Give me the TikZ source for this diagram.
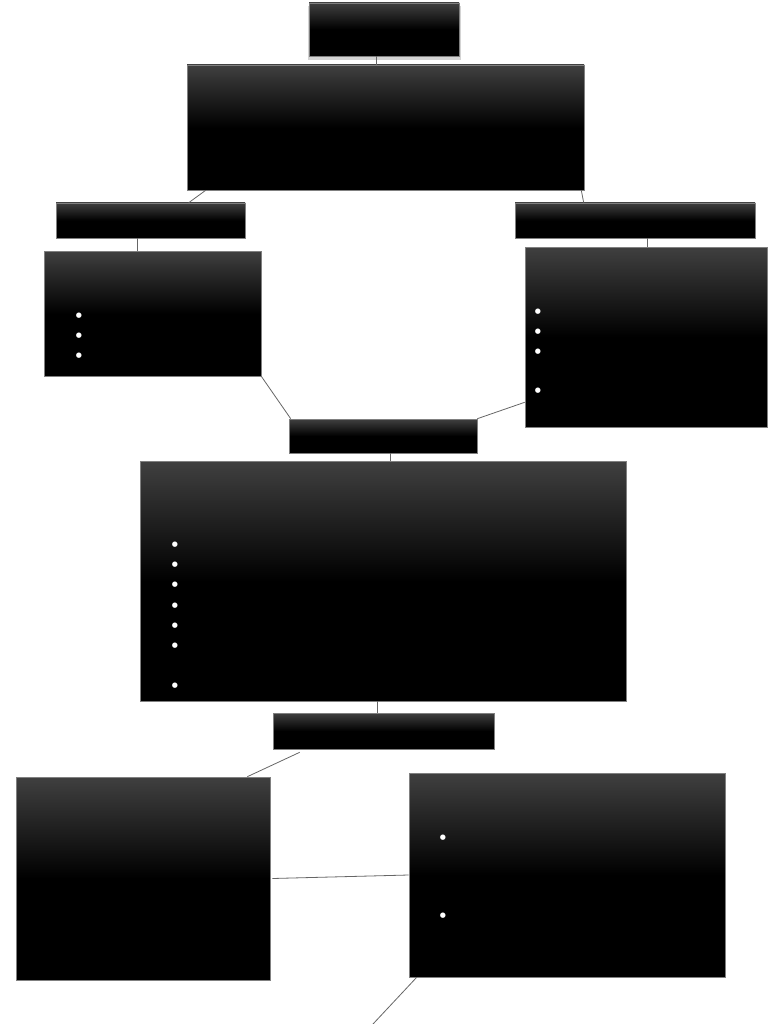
\documentclass[tikz,border=0pt]{standalone}
\usepackage{fontspec}
\newfontfamily\dotfont{DejaVu Sans}
\usetikzlibrary{shadows}
\pgfdeclareverticalshading{boxfade}{100bp}{color(0bp)=(black); color(25bp)=(black); color(50bp)=(black); color(75bp)=(black!75); color(100bp)=(black!75)}
\begin{document}
\begin{tikzpicture}[x=1pt, y=-1pt,
  box/.style={draw=black!50, line width=0.6pt, shade, shading=boxfade, inner sep=0pt},
  link/.style={draw=black!60, line width=0.8pt},
  bul/.style={text=white, font=\dotfont\fontsize{7}{7}\selectfont, inner sep=0pt}]
\useasboundingbox (0,0) rectangle (768,1024);
\node (top) [box, minimum width=150pt, minimum height=53pt, drop shadow={shadow xshift=0pt, shadow yshift=-3pt, shadow scale=1.02, opacity=.35}] at (384,29.5) {};
\node (big) [box, minimum width=397pt, minimum height=125pt] at (385.5,127.5) {};
\node (lh) [box, minimum width=189pt, minimum height=35pt] at (150.5,220.5) {};
\node (rh) [box, minimum width=240pt, minimum height=35pt] at (635,220.5) {};
\node (lc) [box, minimum width=217pt, minimum height=125pt] at (152.5,313.5) {};
\node (rc) [box, minimum width=242pt, minimum height=180pt] at (646,337) {};
\node (mh) [box, minimum width=188pt, minimum height=34pt] at (383,436) {};
\node (mb) [box, minimum width=486pt, minimum height=240pt] at (383,581) {};
\node (lw) [box, minimum width=221pt, minimum height=36pt] at (383.5,731) {};
\node (bl) [box, minimum width=254pt, minimum height=203pt] at (143,878.5) {};
\node (br) [box, minimum width=316pt, minimum height=204pt] at (567,875) {};
\coordinate (end) at (373,1024);
% bullets
\foreach \y [count=\i] in {316,336,356}
  \node (lb\i) [bul] at (79,\y) {●};
\foreach \y [count=\i] in {312,332,352,391}
  \node (rb\i) [bul] at (538,\y) {●};
\foreach \y [count=\i] in {545,565,585,606,626,646,686}
  \node (mb\i) [bul] at (175,\y) {●};
\foreach \y [count=\i] in {838,916}
  \node (bb\i) [bul] at (443,\y) {●};
% connectors
\draw[link] ([xshift=-8pt]top.south) -- ([xshift=-8pt]top.south |- big.north);
\draw[link] ([xshift=19pt]big.south west) -- ([xshift=133pt]lh.north west);
\draw[link] ([xshift=-3pt]big.south east) -- ([xshift=69pt]rh.north west);
\draw[link] ([xshift=-13.5pt]lh.south) -- ([xshift=-13.5pt]lh.south |- lc.north);
\draw[link] ([xshift=12pt]rh.south) -- ([xshift=12pt]rh.south |- rc.north);
\draw[link] (lc.south east) -- ([xshift=2pt]mh.north west);
\draw[link] ([yshift=25pt]rc.south west) -- (mh.north east);
\draw[link] ([xshift=7pt]mh.south) -- ([xshift=7pt]mh.south |- mb.north);
\draw[link] ([xshift=-6pt]mb.south) -- ([xshift=-6pt]mb.south |- lw.north);
\draw[link] ([xshift=27pt, yshift=-3pt]lw.south west) -- ([xshift=-23pt]bl.north east);
\draw[link] ([xshift=2pt]bl.east) -- (br.west);
\draw[link] ([xshift=8pt]br.south west) -- (end);
\end{tikzpicture}
\end{document}
